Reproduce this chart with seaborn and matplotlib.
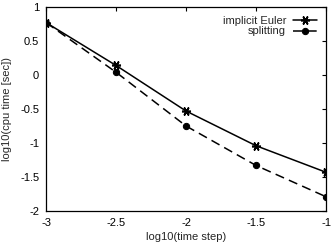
import matplotlib
matplotlib.use("Agg")
import matplotlib.pyplot as plt
import seaborn as sns
import pandas as pd

log_dt = [-3, -2.5, -2, -1.5, -1]
euler = [0.77, 0.14, -0.53, -1.04, -1.43]
splitting = [0.77, 0.04, -0.75, -1.33, -1.79]
labels = ["implicit Euler", "splitting"]

df_e = pd.DataFrame({"x": log_dt, "y": euler})
df_s = pd.DataFrame({"x": log_dt, "y": splitting})

sns.set_theme(style="white")
plt.rcParams["font.family"] = ["Liberation Sans", "DejaVu Sans"]
fig = plt.figure(figsize=(3.32, 2.42), dpi=100)
ax = fig.add_axes([0.139, 0.128, 0.843, 0.843])

sns.lineplot(data=df_e, x="x", y="y", color="black", marker=(6, 2, 90),
             linewidth=1.1, markersize=6.5, markeredgewidth=1.2,
             markeredgecolor="black", label=labels[0], ax=ax)
sns.lineplot(data=df_s, x="x", y="y", color="black", marker="o",
             linestyle=(0, (6, 3.5)), linewidth=1.1, markersize=4.5,
             markeredgecolor="black", label=labels[1], ax=ax)

ax.set_xlim(-3, -1)
ax.set_ylim(-2, 1)
ax.set_xticks([-3, -2.5, -2, -1.5, -1])
ax.set_xticklabels(["-3", "-2.5", "-2", "-1.5", "-1"])
ax.set_yticks([-2, -1.5, -1, -0.5, 0, 0.5, 1])
ax.set_yticklabels(["-2", "-1.5", "-1", "-0.5", "0", "0.5", "1"])
ax.tick_params(direction="in", length=3, width=0.8, top=True, right=True,
               labelsize=8, colors="black", pad=5)
for s in ax.spines.values():
    s.set_color("black")
    s.set_linewidth(0.9)
ax.set_xlabel("log10(time step)", fontsize=8, labelpad=3)
ax.set_ylabel("log10(cpu time [sec])", fontsize=8, labelpad=6)

leg = ax.legend(loc="upper right", markerfirst=False, frameon=False,
                fontsize=8, handlelength=2.2, borderaxespad=0.4,
                labelspacing=0.05, handletextpad=0.6)

fig.savefig("out.png", dpi=100)
